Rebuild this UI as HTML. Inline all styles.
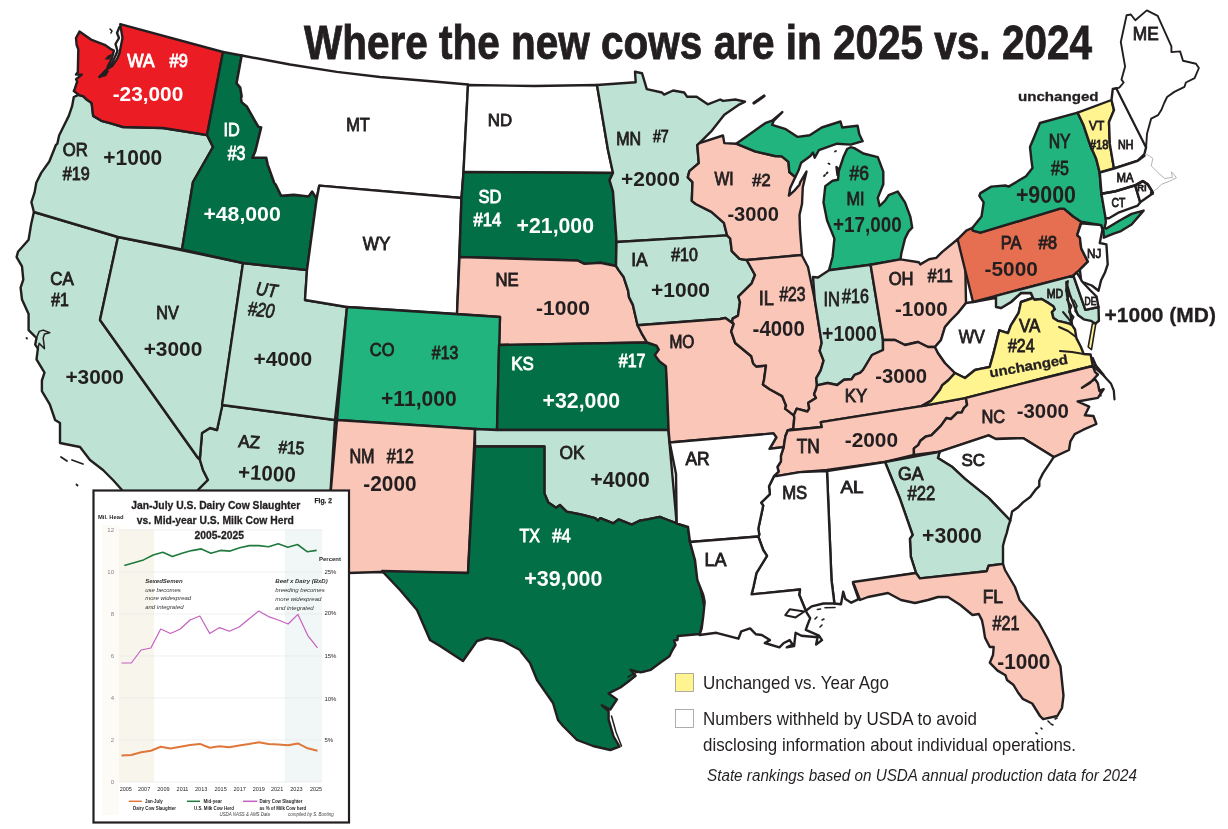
<!DOCTYPE html>
<html><head><meta charset="utf-8"><style>
html,body{margin:0;padding:0;background:#fff;overflow:hidden;width:1228px;height:829px;}
svg{display:block;font-family:"Liberation Sans",sans-serif;will-change:transform;}
</style></head><body>
<svg width="1228" height="829" viewBox="0 0 1228 829">
<rect width="1228" height="829" fill="#fff"/>
<g stroke="#231f20" stroke-width="2.4" stroke-linejoin="round">
<polygon points="33.9,212 118,237 100,320 198,458 200,460 203,470 208,480 198,490 198,500 125,500 122,490 113,480 103,470 90,460 80,447 60,443 60,423 55.1,420 49.8,404.4 41.9,391.1 41.9,380.5 44.5,372.6 36.5,359.3 37.9,348.7 35.2,344.7 36.5,338 28.6,330.1 28.6,314.1 22,299.5 20.6,287.6 23.3,279.6 22,266.4 16.6,257.1 18,251.8 28.6,239.8 31.2,223.9" fill="#bee3d4"/>
<polygon points="222,405 335,420 330,500 198,500 198,490 208,480 203,470 200,460 200,457 202,433 210,428 217,430" fill="#bee3d4"/>
<polygon points="118,237 243,263 222,407 217,430 210,428 202,433 200,457 198,458 100,320" fill="#bee3d4"/>
<polygon points="243,263 307,270 305,300 347,307 335,420 222,405" fill="#bee3d4"/>
<polygon points="73.8,97 78.6,94.8 83.5,96.4 86.7,99.6 91.6,102.9 93.2,115.9 101.4,120.8 110,123.2 123,127 163,128 207,135 213,147 193,182 182,249.5 118,237 33.9,212 31.4,202.2 34.6,192.4 36.3,182.7 41.2,172.9 49.3,161.5 55.8,145.2 57.4,143.6 59.1,135.5 62.3,128.9 68.8,115.9 72.1,106.2" fill="#bee3d4"/>
<polygon points="79.5,31.6 91,39.6 104.7,44.8 110.4,48.8 113.9,50.5 112,58 108,66 105.8,74.6 99.5,76.9 106,70 112.7,65.4 117.3,58.6 119.6,52.8 122.5,37.9 120.2,24.2 223,52 207,135 163,128 123,127 110,123.2 101.4,120.8 93.2,115.9 91.6,102.9 86.7,99.6 83.5,96.4 78.6,94.8 74.5,91.5 73.8,91.2 74.9,88.4 77.2,81.5 76,79.2 81.8,74.6 76,74.6 77.8,72.3 78.3,49.4 76.6,44.8 76,38" fill="#ec1c24"/>
<polygon points="223,52 241.7,55.5 236.6,83.3 240.3,87.6 241.7,96.3 241,98.5 241.7,102.1 246.8,106.4 258.3,126.7 261.2,127.4 255.4,151.3 252.5,157.8 266.3,157.8 267.7,164.3 274.3,183 275.6,184.3 281.2,195.7 293.9,194.8 308.5,196.4 312.1,191.5 316.7,198.7 307,270 243,263 182,249.5 193,182 213,147 207,135" fill="#036f46"/>
<polygon points="241.7,55.5 290,64.5 336.8,71.9 380,77 428,81 468,84.5 463.5,172 461.5,198 319.3,185.6 316.7,198.7 312.1,191.5 308.5,196.4 293.9,194.8 281.2,195.7 275.6,184.3 274.3,183 267.7,164.3 266.3,157.8 252.5,157.8 255.4,151.3 261.2,127.4 258.3,126.7 246.8,106.4 241.7,102.1 241,98.5 241.7,96.3 240.3,87.6 236.6,83.3" fill="#ffffff"/>
<polygon points="319.3,185.6 461.5,198 457,314 347,307 305,300 307,270 316.7,198.7" fill="#ffffff"/>
<polygon points="468,85 534,86 597,85 608,150 613,173 463.5,172" fill="#ffffff"/>
<polygon points="463.5,172 613,173 609.5,180.2 613,191.7 616.3,237.5 616,266 600.4,262.8 584.4,263.9 577.5,260.5 459.5,257 461.5,198" fill="#036f46"/>
<polygon points="459.5,257 577.5,260.5 584.4,263.9 600.4,262.8 616,266 618.8,270.4 623.5,276.7 628.2,290.8 629,297.1 632.9,304.9 637.6,325.3 642.4,334.7 647.1,342.5 499,345 500,317 457,314" fill="#f9c6b8"/>
<polygon points="347,307 500,317 497,430 475,429 337,420" fill="#22b47e"/>
<polygon points="499,345 647.1,342.5 656.5,345.7 658.8,349.6 654.9,355.1 659.6,361.4 665.9,366.1 666.7,380 668.6,430 497,430" fill="#036f46"/>
<polygon points="337,420 475,429 468,573 380,572 348,573 330,500" fill="#f9c6b8"/>
<polygon points="475,429 497,430 668.3,430 676.7,523.3 668,520 659.8,516.8 647.3,519.4 639.5,520.7 631.7,524.6 618.6,519.4 613.4,523.3 600.4,518.1 597.8,520.7 595.2,518.1 584.8,515.5 579.6,514.2 566.6,511.6 560,505.1 556.1,507.7 548.3,502.5 544.4,493.4 544.4,446.5 475,446.5" fill="#bee3d4"/>
<polygon points="475,446.5 544.4,446.5 544.4,493.4 548.3,502.5 556.1,507.7 560,505.1 566.6,511.6 579.6,514.2 584.8,515.5 595.2,518.1 597.8,520.7 600.4,518.1 613.4,523.3 618.6,519.4 631.7,524.6 639.5,520.7 647.3,519.4 659.8,516.8 668,520 676.7,523.3 688,527 690,542 695,560 697,573 700,586 703,600 705,610 703,620 700,634 677.8,636 677.5,640 674,640.5 675.5,645 672.7,649.5 669.4,656.3 660.9,662.2 650.8,669.8 640.7,672.3 630.5,669.8 635.6,675.7 627.1,682.5 620.4,687.5 608.6,693.4 617,699.4 610.3,709.5 601.8,705.3 608.6,711.2 608.6,719.6 613.6,736.5 619.5,746.6 610.3,750 593,746 577,740 563,726 558,720 553,703 537,680 530,663 522,653 520,650 503,641 487,638 477,641 463,661 440,646 430,640 417,610 400,590 382,571 468,573" fill="#036f46"/>
<polygon points="597,85 635.7,82.2 635,71.8 642,73.2 646.8,89.1 662,92.5 664.1,94.6 673.1,90.5 684.2,92.5 687,96.7 696.6,96.7 707.7,104.3 720.2,99.5 723,100.9 735.4,99.5 745.1,101.6 739.6,104.3 724.3,114.7 711.9,130.6 699.4,143.1 697.3,145.2 698.8,163.2 689.4,171.1 687.8,177.4 692.5,182.1 691.8,200.9 695.7,204 711.4,211.9 723.9,222.8 725.5,229.1 727.1,235.4 616.5,242 616.3,237.5 613,191.7 609.5,180.2 613,173 608,150" fill="#bee3d4"/>
<polygon points="616.5,242 727.1,235.4 730.2,238.5 731.8,251.1 739.6,258.9 746.7,260 755,275 751.7,283.3 738.3,296.7 740,302 738,315.6 732.7,318.6 732.2,321.5 733.7,324 725.4,318 720,319 637.6,325.3 632.9,304.9 629,297.1 628.2,290.8 623.5,276.7 618.8,270.4 616,266" fill="#bee3d4"/>
<polygon points="637.6,325.3 720,319 725.4,318 733.7,324 731.2,331.3 735.2,343 751.3,356.2 753.2,363.5 756.2,366.5 766,365.5 764,380 762.9,384.5 769.7,389.3 782.2,396.1 786.1,405.7 785.1,408.6 793.8,415.4 794.3,417.3 793.3,428.9 787.7,430.5 785.4,436.2 783.7,447.1 769.5,448.8 776.3,437.4 773.5,433.4 669.7,442.5 668.6,430 666.7,380 665.9,366.1 659.6,361.4 654.9,355.1 658.8,349.6 656.5,345.7 647.1,342.5 642.4,334.7" fill="#f9c6b8"/>
<polygon points="699.4,143.1 723,135.5 724.3,143.1 736.2,143.7 755,151.4 775,156 781.8,156.4 788.5,161.9 789.3,172 795.3,177.1 790.2,188 788.9,195.6 794.4,190.6 799.5,184.7 800.3,182.1 806.5,171.5 802.8,187.2 802,204.1 799.5,215 800,230 802,255 746.7,260 739.6,258.9 731.8,251.1 730.2,238.5 727.1,235.4 725.5,229.1 723.9,222.8 711.4,211.9 695.7,204 691.8,200.9 692.5,182.1 687.8,177.4 689.4,171.1 698.8,163.2 697.3,145.2" fill="#f9c6b8"/>
<polygon points="736.2,143.7 744.7,137.8 765.2,123.2 772.1,120.6 782.3,112.1 773.8,120.6 772.1,124.9 785.8,129.2 797.7,136.9 809.7,135.2 821.7,127.5 840.5,121.5 842.2,127.5 857.6,125.8 859.3,134.3 862.7,141.2 850.7,144.6 837.1,143.7 830.7,145.8 818.9,150.1 814.7,157.7 813,152.6 810.4,156 801.2,162.7 798.6,170.3 795.3,177.1 789.3,172 788.5,161.9 781.8,156.4 775,156 755,151.4" fill="#22b47e"/>
<polygon points="847.1,149 850.7,147.2 854.3,148.1 863.3,153.5 877.8,157.1 883.3,171.6 883.3,184.3 877.8,197.9 879.6,206 885.1,200.6 888.7,195.2 897.7,191.5 905,202.4 910.4,216.9 912.2,227.7 908.6,231.4 905,238.6 901.4,253.1 900.5,259.4 870.6,264.8 829,270.3 832.6,256.7 834.4,238.6 827.1,220.5 823.5,202.4 825.3,186.1 832.6,180.7 838,179.8 838.9,169.8 836.5,167 837.5,175 843.4,157.1" fill="#22b47e"/>
<polygon points="746.7,260 801.7,255 808,267 814.8,300 821.7,343 819.7,350.8 823.6,360.6 820.7,370.4 816.3,378.2 817,385.4 816,389.3 814.1,394.1 816,398 808.3,402.8 809.2,408.6 807.3,411.5 796.7,408.6 793.8,415.4 785.1,408.6 786.1,405.7 782.2,396.1 769.7,389.3 762.9,384.5 764,380 766,365.5 756.2,366.5 753.2,363.5 751.3,356.2 735.2,343 731.2,331.3 733.7,324 732.2,321.5 732.7,318.6 738,315.6 740,302 738.3,296.7 751.7,283.3 755,275" fill="#f9c6b8"/>
<polygon points="814.8,300 813,277 818,277.5 829,270.3 870.6,264.8 883,340 883,350 872,355 863,370 860,372.9 854.6,374.8 851.7,379.2 844,379.7 837.2,385 827.6,383 817,385.4 816.3,378.2 820.7,370.4 823.6,360.6 819.7,350.8 821.7,343" fill="#bee3d4"/>
<polygon points="870.6,264.8 900.5,259.4 918.8,262.2 920.3,264.4 929,259.3 936.2,257.9 942,252.1 957.6,239.3 965,250 966,303 958,313 951,320 945,327 941,340 935,347 928,347 918,342 905,345 895,340 883,340" fill="#f9c6b8"/>
<polygon points="817,385.4 827.6,383 837.2,385 844,379.7 851.7,379.2 854.6,374.8 860,372.9 863,370 872,355 883,350 883,340 895,340 905,345 918,342 928,347 935,347 938,353 945,363 955,373 948.6,380 942.1,385.4 940,389.8 935.6,395.2 931.3,400.6 921.5,406.1 860,415.9 820.8,422.1 821.8,427 787.7,430.5 793.3,428.9 794.3,417.3 793.8,415.4 796.7,408.6 807.3,411.5 809.2,408.6 808.3,402.8 816,398 814.1,394.1 816,389.3" fill="#f9c6b8"/>
<polygon points="787.7,430.5 821.8,427 820.8,422.1 860,415.9 921.5,406.1 966,397.9 967.1,405 963.8,408.2 961.7,412.6 957.3,412.6 950.8,419.1 946.5,418 941,425.6 931.3,435.4 925.8,436.5 920.4,440.8 918.2,445.1 913.9,448.4 913.9,454.9 885,462 827,470 800,472.1 776.3,476.1 774,476.1 778.6,471.6 777.4,467 780.9,461.3 780.9,455.6 783.7,447.1 785.4,436.2" fill="#f9c6b8"/>
<polygon points="966,303 973,302 995,298 1001,308 1011,302 1021,293 1031,293 1033,298 1021,302 1018.6,312.9 1010.9,325.4 1008,333.2 999.3,330.3 993.5,353.4 989.7,367 980,368.9 975,370 965,378 955,373 945,363 938,353 935,347 941,340 945,327 951,320 958,313" fill="#ffffff"/>
<polygon points="957.6,239.3 966.3,230.6 972.3,227.9 972.8,230.6 980.4,232.7 1060,208.6 1064,208.6 1073.3,216.5 1081.2,221.8 1077.2,235.1 1079.9,237.7 1081.2,248.4 1087.9,261.6 1079.9,269.6 1076.7,272.3 1073.4,275.6 1020,289.5 996,295.8 973,302" fill="#e66f51"/>
<polygon points="972.3,227.9 981.5,216.5 983.7,202.3 979.3,195.8 980.4,193.1 991.3,186.6 1005.4,185.5 1008.6,186.6 1026,176.3 1032.5,168.1 1031.4,160 1030,147 1040,123 1077.7,112.7 1083.6,125.3 1090.4,145.6 1096.3,159.1 1099.7,172.6 1101.4,193.7 1105.6,216.5 1105.8,222.5 1104.5,228 1106.4,228.5 1119.7,220.5 1131.6,213.9 1143.6,210.6 1131.6,224.5 1121,231.1 1113,233.8 1103.8,237.7 1103.5,231 1101.1,225.1 1081.2,221.8 1073.3,216.5 1064,208.6 1060,208.6 980.4,232.7 972.8,230.6" fill="#22b47e"/>
<polygon points="1077.7,112.7 1111.5,100 1114,110.1 1109,122 1109.8,143.9 1114,168.4 1099.7,172.6 1096.3,159.1 1090.4,145.6 1083.6,125.3" fill="#fff48f"/>
<polygon points="1112.8,89 1116.4,88.3 1146.1,147.3 1144.4,154 1137.7,160.8 1114,168.4 1109.8,143.9 1109,122 1114,110.1 1111.5,100" fill="#ffffff"/>
<polygon points="1116.4,88.3 1119.3,87.6 1123.7,82.5 1121.5,79.6 1125.1,66.6 1120.8,42 1126.6,15.2 1130.9,14.5 1135.3,20.3 1146.8,10.4 1157.7,15.9 1171.4,46.3 1171.4,52.1 1180.1,51.4 1183,60.8 1196,63.7 1198.9,68 1194.6,78.1 1185.9,82.5 1184.5,86.8 1174.3,91.9 1167.1,97 1164.2,103 1161.3,110.1 1158,115.2 1151.2,118.6 1147,133.8 1146.1,147.3" fill="#ffffff" stroke-width="1.9"/>
<polygon points="1099.7,172.6 1114,168.4 1137.7,160.8 1144.4,155.7 1146.1,154 1152.9,158.3 1151.2,165.9 1158,172.6 1155,185 1152,191.2 1147.8,184.4 1142.8,181.1 1135.2,185.3 1115.7,191.2 1101.4,193.7" fill="#ffffff" stroke="none"/>
<polygon points="1101.4,193.7 1115.7,191.2 1135.2,185.3 1140.2,202.2 1137.7,205.6 1119.1,212.3 1109,218.2 1105.6,218.2" fill="#ffffff"/>
<polygon points="1135.2,185.3 1142.8,181.1 1147.8,184.4 1152,191.2 1151.2,194.6 1140.2,202.2" fill="#ffffff"/>
<polygon points="1081.2,223.2 1101.1,225.1 1102.4,229.8 1099.8,243 1106.4,244.4 1107.7,264.3 1105.1,272.2 1101.1,280.2 1098.5,290.8 1091.8,285.5 1081.2,281.5 1079.9,269.6 1087.9,261.6 1081.2,248.4 1079.9,237.7 1077.2,235.1" fill="#ffffff"/>
<polygon points="996,295.8 1020,289.5 1073.4,275.6 1085.4,309.8 1098.5,307 1098.9,320.8 1095.3,323.7 1090.9,320.8 1083.7,319.3 1077.9,315 1075,307.8 1070,295 1066.3,282 1067,295 1069,305 1072.1,325.1 1069.2,323.7 1063.4,322.2 1057.6,320.8 1053.3,317.9 1051.8,312.1 1054.7,309.2 1053.3,306.3 1049,303.4 1041.7,299 1034.5,299.8 1033,298 1031,293 1021,293 1011,302 1001,308 996,307" fill="#bee3d4"/>
<polygon points="1073.4,275.6 1076.7,272.3 1079,276 1082,281.5 1090,290 1096.5,296.5 1098.5,307 1085.4,309.8" fill="#ffffff"/>
<polygon points="921.5,406.1 931.3,400.6 935.6,395.2 940,389.8 942.1,385.4 948.6,380 955,373 965,378 975,370 980,368.9 989.7,367 993.5,353.4 999.3,330.3 1008,333.2 1010.9,325.4 1018.6,312.9 1021,302 1033,298 1034.5,299.8 1041.7,299 1049,303.4 1053.3,306.3 1054.7,309.2 1051.8,312.1 1053.3,317.9 1057.6,320.8 1063.4,322.2 1069.2,323.7 1072.1,325.1 1075,329.5 1076.4,338.1 1080.8,346.8 1083.7,354 1090.6,354.5 1092.8,366 1040,379 966,397.9" fill="#fff48f"/>
<polygon points="966,397.9 1040,379 1092.8,366 1095,371.8 1097.9,374.7 1090,383 1082,387.8 1095,379 1097.9,383.4 1099.3,390.7 1103.7,389.2 1097.9,397.9 1077.6,401.5 1089.2,406.6 1084.9,415.3 1093.5,416 1096.4,424 1083.4,429.7 1074.7,434.1 1070.4,441.3 1069,450 1053.7,457.1 1023,438.1 995.8,439 988.6,435.4 939.7,451.7 913.9,454.9 913.9,448.4 918.2,445.1 920.4,440.8 925.8,436.5 931.3,435.4 941,425.6 946.5,418 950.8,419.1 957.3,412.6 961.7,412.6 963.8,408.2 967.1,405" fill="#f9c6b8"/>
<polygon points="939.7,451.7 988.6,435.4 995.8,439 1023,438.1 1053.7,457.1 1050.1,462.6 1042.9,473.4 1039.3,480.7 1039.3,486.1 1035.6,489.7 1030.2,497 1023,502.4 1017.5,507.8 1012.1,511.4 1010.3,520.5 988.6,497.9 965,478.9 952.4,467.1 937.9,458" fill="#ffffff"/>
<polygon points="885,462 939.7,451.7 937.9,458 952.4,467.1 965,478.9 988.6,497.9 1010.3,520.5 1008.5,525.9 1006.7,533.1 1004.9,538.6 1003,545.8 1003,563.9 988.6,565.7 986.8,571.2 919.8,578.4 916,573 910.8,556.7 909.9,538.6 912.6,535 900,498.8" fill="#bee3d4"/>
<polygon points="827,471 885,462 900,498.8 912.6,535 909.9,538.6 910.8,556.7 916,573 853,583 858.6,599.1 851.3,602.7 845.4,599.1 843.2,591.7 841,604.2 834.4,603.5 831.5,580" fill="#ffffff"/>
<polygon points="776.3,476.1 800,472.1 827,471 831.5,580 834.4,603.5 823.4,603.5 811.7,606.4 805.8,610.8 799.2,594.7 800,589.5 751.6,594.4 753.5,586.7 756.4,573.2 767,555.8 763.2,550 758.3,536.5 759.3,534.6 758.3,528.8 763.2,505.6 761.2,502.7 769.9,494.1 769,486.3 774,476.1" fill="#ffffff"/>
<polygon points="669.7,442.5 773.5,433.4 776.3,437.4 769.5,448.8 783.7,447.1 780.9,455.6 780.9,461.3 777.4,467 778.6,471.6 774,476.1 769,486.3 769.9,494.1 761.2,502.7 763.2,505.6 758.3,528.8 759.3,534.6 758.3,536.5 690,542 688,527 676.7,523.3 676,473.9" fill="#ffffff"/>
<polygon points="690,542 758.3,536.5 763.2,550 767,555.8 756.4,573.2 753.5,586.7 751.6,594.4 800,589.5 799.2,594.7 805.8,610.8 807.3,613.7 810.2,618.1 807.3,625.5 805.8,629.9 819,635.7 822,640.1 816.1,644.5 817.6,637.2 801.4,635.7 795.6,632.8 794.1,646 786.8,647.4 792.6,644.5 789.7,640.1 783.8,643 779.4,647.4 764.8,643 769.9,640.1 761.8,635 756,634.3 750.1,628.4 741.3,631.3 738.4,638.7 716.4,632.8 699.5,635 701.7,628.4 703.2,616.7 704.7,602 703.2,594.7 697.3,580 695,560" fill="#ffffff"/>
<polygon points="853,582 916,573 919.8,578.4 986.8,571.2 988.6,565.7 1003,563.9 1005,570 1015,587 1019.6,600 1028,610 1038.4,622 1047.8,639 1060.4,665.9 1063.5,695.7 1062,708 1057.3,716 1043.1,719.2 1040,716 1032.2,703.5 1022.7,698.8 1018,692.5 1013.3,684.7 1007,680 1005.5,675.3 997.6,670.6 991.4,664.3 989.8,662.7 993,655 993.7,647 989.8,647 985,637.6 983.5,628 982,620.4 978.8,614 972.5,615 960,604.7 948,597 938,597 928,600 915,603 901,600 888,593 868,597 860,600" fill="#f9c6b8"/>
</g>
<text x="304" y="59" font-size="49" font-weight="bold" fill="#231f20" stroke="#231f20" stroke-width="0.9" textLength="788" lengthAdjust="spacingAndGlyphs">Where the new cows are in 2025 vs. 2024</text>
<g>
<text x="127.2" y="67.3" font-size="18.0" font-weight="normal" fill="#ffffff" textLength="27.3" lengthAdjust="spacingAndGlyphs" stroke="#ffffff" stroke-width="0.85">WA</text>
<text x="169.5" y="67.3" font-size="18.0" font-weight="normal" fill="#ffffff" textLength="18.3" lengthAdjust="spacingAndGlyphs" stroke="#ffffff" stroke-width="0.85">#9</text>
<text x="112.7" y="101.1" font-size="20.4" font-weight="bold" fill="#ffffff" textLength="70.6" lengthAdjust="spacingAndGlyphs" >-23,000</text>
<text x="62.8" y="156.3" font-size="17.6" font-weight="normal" fill="#231f20" textLength="25.0" lengthAdjust="spacingAndGlyphs" stroke="#231f20" stroke-width="0.85">OR</text>
<text x="62.8" y="179.6" font-size="18.4" font-weight="normal" fill="#231f20" textLength="27.0" lengthAdjust="spacingAndGlyphs" stroke="#231f20" stroke-width="0.85">#19</text>
<text x="103.3" y="165.3" font-size="21.4" font-weight="bold" fill="#231f20" textLength="59.0" lengthAdjust="spacingAndGlyphs" >+1000</text>
<text x="223.5" y="136.3" font-size="18.4" font-weight="normal" fill="#ffffff" textLength="16.3" lengthAdjust="spacingAndGlyphs" stroke="#ffffff" stroke-width="0.85">ID</text>
<text x="227.7" y="160.3" font-size="19.4" font-weight="normal" fill="#ffffff" textLength="17.8" lengthAdjust="spacingAndGlyphs" stroke="#ffffff" stroke-width="0.85">#3</text>
<text x="203.4" y="220.6" font-size="20.9" font-weight="bold" fill="#ffffff" textLength="77.3" lengthAdjust="spacingAndGlyphs" >+48,000</text>
<text x="346.2" y="131.3" font-size="17.6" font-weight="normal" fill="#231f20" textLength="23.6" lengthAdjust="spacingAndGlyphs" stroke="#231f20" stroke-width="0.85">MT</text>
<text x="487.8" y="126.1" font-size="17.3" font-weight="normal" fill="#231f20" textLength="24.3" lengthAdjust="spacingAndGlyphs" stroke="#231f20" stroke-width="0.85">ND</text>
<text x="362.8" y="249.9" font-size="17.9" font-weight="normal" fill="#231f20" textLength="27.7" lengthAdjust="spacingAndGlyphs" stroke="#231f20" stroke-width="0.85">WY</text>
<text x="50.2" y="284.6" font-size="17.5" font-weight="normal" fill="#231f20" textLength="23.5" lengthAdjust="spacingAndGlyphs" stroke="#231f20" stroke-width="0.85">CA</text>
<text x="51.2" y="306.3" font-size="17.6" font-weight="normal" fill="#231f20" textLength="17.6" lengthAdjust="spacingAndGlyphs" stroke="#231f20" stroke-width="0.85">#1</text>
<text x="65.4" y="383.9" font-size="20.4" font-weight="bold" fill="#231f20" textLength="58.5" lengthAdjust="spacingAndGlyphs" >+3000</text>
<text x="156.2" y="318.9" font-size="17.5" font-weight="normal" fill="#231f20" textLength="22.5" lengthAdjust="spacingAndGlyphs" stroke="#231f20" stroke-width="0.85">NV</text>
<text x="143.7" y="356.3" font-size="20.4" font-weight="bold" fill="#231f20" textLength="58.6" lengthAdjust="spacingAndGlyphs" >+3000</text>
<text x="256.0" y="296.1" font-size="18.4" font-weight="normal" fill="#231f20" textLength="21.5" lengthAdjust="spacingAndGlyphs" stroke="#231f20" stroke-width="0.85" transform="rotate(8,266.8,289.5)" font-style="italic">UT</text>
<text x="247.9" y="316.6" font-size="19.8" font-weight="normal" fill="#231f20" textLength="26.7" lengthAdjust="spacingAndGlyphs" stroke="#231f20" stroke-width="0.85" transform="rotate(7,261.2,309.5)" font-style="italic">#20</text>
<text x="253.4" y="366.3" font-size="20.4" font-weight="bold" fill="#231f20" textLength="58.9" lengthAdjust="spacingAndGlyphs" >+4000</text>
<text x="238.3" y="447.8" font-size="17.6" font-weight="normal" fill="#231f20" textLength="21.7" lengthAdjust="spacingAndGlyphs" stroke="#231f20" stroke-width="0.85" transform="rotate(4,249.2,441.5)">AZ</text>
<text x="278.5" y="453.8" font-size="18.0" font-weight="normal" fill="#231f20" textLength="25.8" lengthAdjust="spacingAndGlyphs" stroke="#231f20" stroke-width="0.85" transform="rotate(3.5,291.4,447.4)">#15</text>
<text x="238.1" y="480.6" font-size="21.2" font-weight="bold" fill="#231f20" textLength="57.7" lengthAdjust="spacingAndGlyphs"  transform="rotate(3.3,267.0,473.2)">+1000</text>
<text x="349.4" y="462.9" font-size="19.8" font-weight="normal" fill="#231f20" textLength="25.2" lengthAdjust="spacingAndGlyphs" stroke="#231f20" stroke-width="0.85">NM</text>
<text x="386.7" y="462.9" font-size="19.8" font-weight="normal" fill="#231f20" textLength="27.2" lengthAdjust="spacingAndGlyphs" stroke="#231f20" stroke-width="0.85">#12</text>
<text x="363.3" y="491.3" font-size="21.4" font-weight="bold" fill="#231f20" textLength="53.3" lengthAdjust="spacingAndGlyphs" >-2000</text>
<text x="369.8" y="355.6" font-size="18.0" font-weight="normal" fill="#231f20" textLength="24.7" lengthAdjust="spacingAndGlyphs" stroke="#231f20" stroke-width="0.85">CO</text>
<text x="431.8" y="358.9" font-size="18.9" font-weight="normal" fill="#231f20" textLength="26.5" lengthAdjust="spacingAndGlyphs" stroke="#231f20" stroke-width="0.85">#13</text>
<text x="381.0" y="406.3" font-size="21.9" font-weight="bold" fill="#231f20" textLength="75.7" lengthAdjust="spacingAndGlyphs" >+11,000</text>
<text x="478.5" y="202.9" font-size="17.5" font-weight="normal" fill="#ffffff" textLength="22.9" lengthAdjust="spacingAndGlyphs" stroke="#ffffff" stroke-width="0.85">SD</text>
<text x="473.5" y="226.3" font-size="17.6" font-weight="normal" fill="#ffffff" textLength="27.7" lengthAdjust="spacingAndGlyphs" stroke="#ffffff" stroke-width="0.85">#14</text>
<text x="516.6" y="232.6" font-size="22.3" font-weight="bold" fill="#ffffff" textLength="77.4" lengthAdjust="spacingAndGlyphs" >+21,000</text>
<text x="495.5" y="285.6" font-size="17.5" font-weight="normal" fill="#231f20" textLength="23.2" lengthAdjust="spacingAndGlyphs" stroke="#231f20" stroke-width="0.85">NE</text>
<text x="536.1" y="314.6" font-size="20.4" font-weight="bold" fill="#231f20" textLength="53.8" lengthAdjust="spacingAndGlyphs" >-1000</text>
<text x="511.2" y="369.6" font-size="18.4" font-weight="normal" fill="#ffffff" textLength="22.6" lengthAdjust="spacingAndGlyphs" stroke="#ffffff" stroke-width="0.85">KS</text>
<text x="618.8" y="366.6" font-size="18.0" font-weight="normal" fill="#ffffff" textLength="26.7" lengthAdjust="spacingAndGlyphs" stroke="#ffffff" stroke-width="0.85">#17</text>
<text x="542.6" y="407.9" font-size="22.7" font-weight="bold" fill="#ffffff" textLength="77.5" lengthAdjust="spacingAndGlyphs" >+32,000</text>
<text x="559.5" y="458.9" font-size="18.9" font-weight="normal" fill="#231f20" textLength="25.1" lengthAdjust="spacingAndGlyphs" stroke="#231f20" stroke-width="0.85">OK</text>
<text x="590.3" y="486.9" font-size="21.3" font-weight="bold" fill="#231f20" textLength="59.6" lengthAdjust="spacingAndGlyphs" >+4000</text>
<text x="519.5" y="542.3" font-size="19.0" font-weight="normal" fill="#ffffff" textLength="20.4" lengthAdjust="spacingAndGlyphs" stroke="#ffffff" stroke-width="0.85">TX</text>
<text x="552.2" y="542.3" font-size="19.0" font-weight="normal" fill="#ffffff" textLength="18.4" lengthAdjust="spacingAndGlyphs" stroke="#ffffff" stroke-width="0.85">#4</text>
<text x="524.3" y="585.6" font-size="22.9" font-weight="bold" fill="#ffffff" textLength="78.2" lengthAdjust="spacingAndGlyphs" >+39,000</text>
<text x="616.2" y="144.6" font-size="17.5" font-weight="normal" fill="#231f20" textLength="24.9" lengthAdjust="spacingAndGlyphs" stroke="#231f20" stroke-width="0.85">MN</text>
<text x="652.9" y="142.3" font-size="16.6" font-weight="normal" fill="#231f20" textLength="15.9" lengthAdjust="spacingAndGlyphs" stroke="#231f20" stroke-width="0.85">#7</text>
<text x="621.1" y="186.3" font-size="20.4" font-weight="bold" fill="#231f20" textLength="58.8" lengthAdjust="spacingAndGlyphs" >+2000</text>
<text x="631.2" y="266.3" font-size="18.7" font-weight="normal" fill="#231f20" textLength="16.4" lengthAdjust="spacingAndGlyphs" stroke="#231f20" stroke-width="0.85">IA</text>
<text x="671.2" y="261.3" font-size="17.6" font-weight="normal" fill="#231f20" textLength="26.6" lengthAdjust="spacingAndGlyphs" stroke="#231f20" stroke-width="0.85">#10</text>
<text x="651.1" y="296.6" font-size="20.9" font-weight="bold" fill="#231f20" textLength="58.9" lengthAdjust="spacingAndGlyphs" >+1000</text>
<text x="669.5" y="347.9" font-size="17.5" font-weight="normal" fill="#231f20" textLength="24.9" lengthAdjust="spacingAndGlyphs" stroke="#231f20" stroke-width="0.85">MO</text>
<text x="714.5" y="184.6" font-size="17.5" font-weight="normal" fill="#231f20" textLength="19.2" lengthAdjust="spacingAndGlyphs" stroke="#231f20" stroke-width="0.85">WI</text>
<text x="752.3" y="185.6" font-size="16.6" font-weight="normal" fill="#231f20" textLength="18.2" lengthAdjust="spacingAndGlyphs" stroke="#231f20" stroke-width="0.85">#2</text>
<text x="727.4" y="221.3" font-size="20.4" font-weight="bold" fill="#231f20" textLength="51.5" lengthAdjust="spacingAndGlyphs" >-3000</text>
<text x="849.4" y="179.6" font-size="19.8" font-weight="normal" fill="#231f20" textLength="19.5" lengthAdjust="spacingAndGlyphs" stroke="#231f20" stroke-width="0.85">#6</text>
<text x="846.4" y="204.6" font-size="19.1" font-weight="normal" fill="#231f20" textLength="18.1" lengthAdjust="spacingAndGlyphs" stroke="#231f20" stroke-width="0.85">MI</text>
<text x="833.1" y="232.1" font-size="22.6" font-weight="bold" fill="#231f20" textLength="68.7" lengthAdjust="spacingAndGlyphs" >+17,000</text>
<text x="758.7" y="304.6" font-size="19.8" font-weight="normal" fill="#231f20" textLength="15.2" lengthAdjust="spacingAndGlyphs" stroke="#231f20" stroke-width="0.85">IL</text>
<text x="779.4" y="301.3" font-size="19.8" font-weight="normal" fill="#231f20" textLength="26.2" lengthAdjust="spacingAndGlyphs" stroke="#231f20" stroke-width="0.85">#23</text>
<text x="752.6" y="336.3" font-size="22.9" font-weight="bold" fill="#231f20" textLength="52.2" lengthAdjust="spacingAndGlyphs" >-4000</text>
<text x="823.4" y="306.3" font-size="19.8" font-weight="normal" fill="#231f20" textLength="16.5" lengthAdjust="spacingAndGlyphs" stroke="#231f20" stroke-width="0.85">IN</text>
<text x="842.1" y="302.9" font-size="19.8" font-weight="normal" fill="#231f20" textLength="26.8" lengthAdjust="spacingAndGlyphs" stroke="#231f20" stroke-width="0.85">#16</text>
<text x="822.0" y="341.3" font-size="22.9" font-weight="bold" fill="#231f20" textLength="54.8" lengthAdjust="spacingAndGlyphs" >+1000</text>
<text x="888.7" y="284.6" font-size="17.5" font-weight="normal" fill="#231f20" textLength="24.9" lengthAdjust="spacingAndGlyphs" stroke="#231f20" stroke-width="0.85">OH</text>
<text x="927.7" y="281.8" font-size="17.6" font-weight="normal" fill="#231f20" textLength="25.1" lengthAdjust="spacingAndGlyphs" stroke="#231f20" stroke-width="0.85">#11</text>
<text x="895.0" y="316.3" font-size="20.4" font-weight="bold" fill="#231f20" textLength="52.6" lengthAdjust="spacingAndGlyphs" >-1000</text>
<text x="844.8" y="401.8" font-size="18.3" font-weight="normal" fill="#231f20" textLength="22.5" lengthAdjust="spacingAndGlyphs" stroke="#231f20" stroke-width="0.85">KY</text>
<text x="875.2" y="383.3" font-size="20.3" font-weight="bold" fill="#231f20" textLength="51.9" lengthAdjust="spacingAndGlyphs" >-3000</text>
<text x="796.7" y="452.6" font-size="19.4" font-weight="normal" fill="#231f20" textLength="23.1" lengthAdjust="spacingAndGlyphs" stroke="#231f20" stroke-width="0.85">TN</text>
<text x="844.7" y="447.1" font-size="20.4" font-weight="bold" fill="#231f20" textLength="53.4" lengthAdjust="spacingAndGlyphs" >-2000</text>
<text x="685.5" y="464.6" font-size="17.5" font-weight="normal" fill="#231f20" textLength="24.2" lengthAdjust="spacingAndGlyphs" stroke="#231f20" stroke-width="0.85">AR</text>
<text x="704.5" y="566.3" font-size="17.6" font-weight="normal" fill="#231f20" textLength="22.0" lengthAdjust="spacingAndGlyphs" stroke="#231f20" stroke-width="0.85">LA</text>
<text x="782.2" y="498.9" font-size="18.9" font-weight="normal" fill="#231f20" textLength="25.1" lengthAdjust="spacingAndGlyphs" stroke="#231f20" stroke-width="0.85">MS</text>
<text x="840.5" y="492.6" font-size="17.0" font-weight="normal" fill="#231f20" textLength="23.1" lengthAdjust="spacingAndGlyphs" stroke="#231f20" stroke-width="0.85">AL</text>
<text x="898.0" y="479.6" font-size="17.5" font-weight="normal" fill="#231f20" textLength="25.6" lengthAdjust="spacingAndGlyphs" stroke="#231f20" stroke-width="0.85">GA</text>
<text x="907.6" y="499.6" font-size="19.8" font-weight="normal" fill="#231f20" textLength="27.8" lengthAdjust="spacingAndGlyphs" stroke="#231f20" stroke-width="0.85">#22</text>
<text x="922.1" y="542.6" font-size="22.3" font-weight="bold" fill="#231f20" textLength="59.6" lengthAdjust="spacingAndGlyphs" >+3000</text>
<text x="961.4" y="465.6" font-size="16.6" font-weight="normal" fill="#231f20" textLength="23.6" lengthAdjust="spacingAndGlyphs" stroke="#231f20" stroke-width="0.85">SC</text>
<text x="981.5" y="422.6" font-size="18.4" font-weight="normal" fill="#231f20" textLength="23.7" lengthAdjust="spacingAndGlyphs" stroke="#231f20" stroke-width="0.85">NC</text>
<text x="1016.7" y="417.9" font-size="20.4" font-weight="bold" fill="#231f20" textLength="52.2" lengthAdjust="spacingAndGlyphs" >-3000</text>
<text x="982.7" y="603.3" font-size="18.0" font-weight="normal" fill="#231f20" textLength="20.3" lengthAdjust="spacingAndGlyphs" stroke="#231f20" stroke-width="0.85">FL</text>
<text x="992.4" y="630.3" font-size="20.8" font-weight="normal" fill="#231f20" textLength="27.0" lengthAdjust="spacingAndGlyphs" stroke="#231f20" stroke-width="0.85">#21</text>
<text x="997.3" y="668.9" font-size="21.9" font-weight="bold" fill="#231f20" textLength="53.1" lengthAdjust="spacingAndGlyphs" >-1000</text>
<text x="1000.7" y="248.6" font-size="18.4" font-weight="normal" fill="#231f20" textLength="20.8" lengthAdjust="spacingAndGlyphs" stroke="#231f20" stroke-width="0.85">PA</text>
<text x="1038.5" y="248.6" font-size="18.4" font-weight="normal" fill="#231f20" textLength="18.7" lengthAdjust="spacingAndGlyphs" stroke="#231f20" stroke-width="0.85">#8</text>
<text x="984.6" y="276.3" font-size="19.7" font-weight="bold" fill="#231f20" textLength="53.3" lengthAdjust="spacingAndGlyphs" >-5000</text>
<text x="1048.7" y="147.9" font-size="19.8" font-weight="normal" fill="#231f20" textLength="21.9" lengthAdjust="spacingAndGlyphs" stroke="#231f20" stroke-width="0.85">NY</text>
<text x="1051.1" y="174.6" font-size="19.8" font-weight="normal" fill="#231f20" textLength="17.8" lengthAdjust="spacingAndGlyphs" stroke="#231f20" stroke-width="0.85">#5</text>
<text x="1015.9" y="202.6" font-size="24.7" font-weight="bold" fill="#231f20" textLength="60.0" lengthAdjust="spacingAndGlyphs" >+9000</text>
<text x="1089.0" y="130.1" font-size="13.5" font-weight="normal" fill="#231f20" textLength="15.3" lengthAdjust="spacingAndGlyphs" stroke="#231f20" stroke-width="0.85">VT</text>
<text x="1089.8" y="148.9" font-size="12.8" font-weight="normal" fill="#231f20" textLength="18.8" lengthAdjust="spacingAndGlyphs" stroke="#231f20" stroke-width="0.85">#18</text>
<text x="1118.1" y="148.9" font-size="11.9" font-weight="normal" fill="#231f20" textLength="15.4" lengthAdjust="spacingAndGlyphs" stroke="#231f20" stroke-width="0.85">NH</text>
<text x="1132.8" y="39.6" font-size="17.5" font-weight="normal" fill="#231f20" textLength="25.9" lengthAdjust="spacingAndGlyphs" stroke="#231f20" stroke-width="0.85">ME</text>
<text x="1116.5" y="182.3" font-size="12.8" font-weight="normal" fill="#231f20" textLength="17.1" lengthAdjust="spacingAndGlyphs" stroke="#231f20" stroke-width="0.85">MA</text>
<text x="1111.5" y="206.9" font-size="12.8" font-weight="normal" fill="#231f20" textLength="13.8" lengthAdjust="spacingAndGlyphs" stroke="#231f20" stroke-width="0.85">CT</text>
<text x="1137.3" y="191.3" font-size="8.2" font-weight="normal" fill="#231f20" textLength="9.4" lengthAdjust="spacingAndGlyphs" stroke="#231f20" stroke-width="0.85">RI</text>
<text x="1087.1" y="257.9" font-size="12.8" font-weight="normal" fill="#231f20" textLength="14.2" lengthAdjust="spacingAndGlyphs" stroke="#231f20" stroke-width="0.85">NJ</text>
<text x="1046.8" y="297.9" font-size="11.9" font-weight="normal" fill="#231f20" textLength="16.4" lengthAdjust="spacingAndGlyphs" stroke="#231f20" stroke-width="0.85">MD</text>
<text x="1084.6" y="304.6" font-size="10.5" font-weight="normal" fill="#231f20" textLength="11.8" lengthAdjust="spacingAndGlyphs" stroke="#231f20" stroke-width="0.85">DE</text>
<text x="958.7" y="342.9" font-size="17.5" font-weight="normal" fill="#231f20" textLength="26.2" lengthAdjust="spacingAndGlyphs" stroke="#231f20" stroke-width="0.85">WV</text>
<text x="1019.1" y="331.8" font-size="17.6" font-weight="normal" fill="#231f20" textLength="21.2" lengthAdjust="spacingAndGlyphs" stroke="#231f20" stroke-width="0.85">VA</text>
<text x="1008.0" y="352.4" font-size="17.9" font-weight="normal" fill="#231f20" textLength="26.5" lengthAdjust="spacingAndGlyphs" stroke="#231f20" stroke-width="0.85">#24</text>
<text x="1018.0" y="100.6" font-size="13.6" font-weight="bold" fill="#231f20" textLength="80.6" lengthAdjust="spacingAndGlyphs" stroke="#231f20" stroke-width="0.3">unchanged</text>
<text x="1104.6" y="322.4" font-size="20.6" font-weight="bold" fill="#231f20" textLength="111.4" lengthAdjust="spacingAndGlyphs" stroke="#231f20" stroke-width="0.3">+1000 (MD)</text>
</g>
<text transform="translate(990.3,377.6) rotate(-10.1)" x="0" y="0" font-size="13.6" font-weight="bold" fill="#231f20" stroke="#231f20" stroke-width="0.3" textLength="79.5" lengthAdjust="spacingAndGlyphs">unchanged</text>
<polyline points="1144.4,155.7 1137.7,160.8 1114,168.4 1099.7,172.6 1101.4,193.7 1115.7,191.2 1135.2,185.3 1142.8,181.1 1147.8,184.4 1152,191.2" fill="none" stroke="#231f20" stroke-width="2.6" stroke-linejoin="round" stroke-linecap="round"/>
<polyline points="1146.1,154 1152.9,158.3 1151.2,165.9 1158,172.6 1164.7,178.5 1172.3,177.4 1171.5,171.8 1176.5,177.7 1169.8,181.1 1161.3,184.4 1158,187.8 1153.7,191.2" fill="none" stroke="#aaaaaa" stroke-width="0.9" stroke-linejoin="round" stroke-linecap="round"/>
<circle cx="1152" cy="193" r="2.2" fill="#231f20"/>
<polyline points="1092.8,366 1103,375 1110.9,383.4 1113.8,390.7 1114.5,399.3" fill="none" stroke="#231f20" stroke-width="2.2" stroke-linejoin="round" stroke-linecap="round"/>
<polyline points="1099,388 1101,396" fill="none" stroke="#231f20" stroke-width="1.5" stroke-linejoin="round" stroke-linecap="round"/>
<polygon points="1091,357 1094,366 1101,373 1108.5,381 1104,373.5 1097,365 1093.5,357" fill="#231f20"/>
<polygon points="1092.4,323.7 1095.8,323.7 1091.5,349.7 1088.2,347" fill="#fff48f" stroke="#231f20" stroke-width="1.6" stroke-linejoin="round"/>
<polyline points="1059,327 1068,331 1076,337" fill="none" stroke="#231f20" stroke-width="2.0" stroke-linejoin="round" stroke-linecap="round"/>
<polyline points="1060,351 1072,352 1083.7,354" fill="none" stroke="#231f20" stroke-width="2.0" stroke-linejoin="round" stroke-linecap="round"/>
<polyline points="1063,312 1068,318 1072,323.7" fill="none" stroke="#231f20" stroke-width="2.0" stroke-linejoin="round" stroke-linecap="round"/>
<polyline points="1068,281 1066,291 1069.5,294.5 1067,300 1071.5,306 1069,312 1073.5,317 1071,322" fill="none" stroke="#231f20" stroke-width="2.0" stroke-linejoin="round" stroke-linecap="round"/>
<polyline points="1074,300 1077,306 1075,311 1079,316" fill="none" stroke="#231f20" stroke-width="1.6" stroke-linejoin="round" stroke-linecap="round"/>
<polygon points="785.3,615.2 789.7,609.3 804.4,611.5 795.6,617.4" fill="#fff" stroke="#231f20" stroke-width="2" stroke-linejoin="round"/>
<polyline points="817.5,609.5 820.5,609" fill="none" stroke="#231f20" stroke-width="1.6" stroke-linejoin="round" stroke-linecap="round"/>
<polyline points="825,607.8 835,607.5" fill="none" stroke="#231f20" stroke-width="1.6" stroke-linejoin="round" stroke-linecap="round"/>
<polyline points="815,619 817,617" fill="none" stroke="#231f20" stroke-width="1.6" stroke-linejoin="round" stroke-linecap="round"/>
<polyline points="822,620 824,619" fill="none" stroke="#231f20" stroke-width="1.6" stroke-linejoin="round" stroke-linecap="round"/>
<polyline points="820,627 822,625" fill="none" stroke="#231f20" stroke-width="1.6" stroke-linejoin="round" stroke-linecap="round"/>
<polyline points="119.5,27 117,33 119,38 115.5,44 117.5,51 114.5,58 112,63 108.5,67.5 104,73 99.5,77" fill="none" stroke="#231f20" stroke-width="2.4" stroke-linejoin="round" stroke-linecap="round"/>
<polyline points="110,29 112,31 111,33" fill="none" stroke="#231f20" stroke-width="1.6" stroke-linejoin="round" stroke-linecap="round"/>
<polygon points="104.5,59.5 108,55.5 112.5,53.5 109.5,59.5" fill="#231f20"/>
<polygon points="100,76.5 105,71.5 109.5,71 105,76.5" fill="#231f20"/>
<polyline points="611.5,716 616,732 621.5,746" fill="none" stroke="#231f20" stroke-width="1.5" stroke-linejoin="round" stroke-linecap="round"/>
<polyline points="628,677 636,672.5 644,672" fill="none" stroke="#231f20" stroke-width="1.6" stroke-linejoin="round" stroke-linecap="round"/>
<polyline points="1036,733 1037,733.5" fill="none" stroke="#231f20" stroke-width="1.8" stroke-linejoin="round" stroke-linecap="round"/>
<polyline points="1041,728 1042,729" fill="none" stroke="#231f20" stroke-width="1.6" stroke-linejoin="round" stroke-linecap="round"/>
<polyline points="754,103 764,96" fill="none" stroke="#231f20" stroke-width="3.2" stroke-linejoin="round" stroke-linecap="round"/>
<polyline points="835,151.5 836,151" fill="none" stroke="#231f20" stroke-width="1.8" stroke-linejoin="round" stroke-linecap="round"/>
<polyline points="828.5,163.5 829.5,164" fill="none" stroke="#231f20" stroke-width="1.8" stroke-linejoin="round" stroke-linecap="round"/>
<polyline points="826.5,173.5 827.5,172.5" fill="none" stroke="#231f20" stroke-width="1.8" stroke-linejoin="round" stroke-linecap="round"/>
<polyline points="824,176 825,175" fill="none" stroke="#231f20" stroke-width="1.8" stroke-linejoin="round" stroke-linecap="round"/>
<polyline points="61,457 67,461" fill="none" stroke="#231f20" stroke-width="1.8" stroke-linejoin="round" stroke-linecap="round"/>
<polyline points="72,460 83,464" fill="none" stroke="#231f20" stroke-width="1.8" stroke-linejoin="round" stroke-linecap="round"/>
<polyline points="76.5,484.5 77.5,485.5" fill="none" stroke="#231f20" stroke-width="1.8" stroke-linejoin="round" stroke-linecap="round"/>
<polyline points="26.5,338 27,338.5" fill="none" stroke="#231f20" stroke-width="1.8" stroke-linejoin="round" stroke-linecap="round"/>
<polyline points="36.5,338 39.2,331.4 43.2,330.1 49.8,332.7 44.5,334.1 43.2,338 44.5,348.7 39.2,343.4 37.9,348.7" fill="none" stroke="#231f20" stroke-width="1.5" stroke-linejoin="round" stroke-linecap="round"/>
<polyline points="1048,721 1050,723" fill="none" stroke="#231f20" stroke-width="1.6" stroke-linejoin="round" stroke-linecap="round"/>
<polyline points="1051,724 1053,725" fill="none" stroke="#231f20" stroke-width="1.6" stroke-linejoin="round" stroke-linecap="round"/>
<polyline points="1055,719 1057,718" fill="none" stroke="#231f20" stroke-width="1.6" stroke-linejoin="round" stroke-linecap="round"/>
<rect x="93.5" y="490.5" width="255.5" height="332" fill="#fff" stroke="#231f20" stroke-width="2.2"/>
<rect x="102" y="525" width="17" height="290" fill="#fdfbf6"/>
<rect x="119" y="529.5" width="35" height="252.5" fill="#f8f5ec"/>
<rect x="285" y="529.5" width="37" height="252.5" fill="#f1f6f7"/>
<line x1="119" y1="782" x2="322" y2="782" stroke="#e6e6e6" stroke-width="0.6"/>
<text x="114" y="784" font-size="6" fill="#8a8090" text-anchor="end">0</text>
<line x1="119" y1="740" x2="322" y2="740" stroke="#e6e6e6" stroke-width="0.6"/>
<text x="114" y="742" font-size="6" fill="#8a8090" text-anchor="end">2</text>
<line x1="119" y1="698" x2="322" y2="698" stroke="#e6e6e6" stroke-width="0.6"/>
<text x="114" y="700" font-size="6" fill="#8a8090" text-anchor="end">4</text>
<line x1="119" y1="656" x2="322" y2="656" stroke="#e6e6e6" stroke-width="0.6"/>
<text x="114" y="658" font-size="6" fill="#8a8090" text-anchor="end">6</text>
<line x1="119" y1="614" x2="322" y2="614" stroke="#e6e6e6" stroke-width="0.6"/>
<text x="114" y="616" font-size="6" fill="#8a8090" text-anchor="end">8</text>
<line x1="119" y1="572" x2="322" y2="572" stroke="#e6e6e6" stroke-width="0.6"/>
<text x="114" y="574" font-size="6" fill="#8a8090" text-anchor="end">10</text>
<line x1="119" y1="530" x2="322" y2="530" stroke="#e6e6e6" stroke-width="0.6"/>
<text x="114" y="532" font-size="6" fill="#8a8090" text-anchor="end">12</text>
<polyline points="124.3,565.4 133.9,562.7 143.5,559.9 153.2,555.0 162.8,552.2 172.4,556.6 182.0,553.3 191.6,550.6 201.3,548.9 210.9,553.3 220.5,550.4 230.1,551.1 239.7,547.8 249.4,545.6 259.0,545.6 268.6,546.7 278.2,543.8 287.8,547.3 297.5,544.5 307.1,551.7 316.7,550.4" fill="none" stroke="#1f7a3c" stroke-width="1.6" stroke-linejoin="round"/>
<polyline points="121.5,663 131.3,663 141.1,650 150.9,648 160.7,629 170.5,633.5 180.3,629 190.1,620 199.9,616 209.7,633.5 219.5,627.6 229.3,631.3 239.1,627 248.9,619 258.7,611 268.5,616.6 278.3,620 288.1,624 297.9,614.4 307.7,635.3 317.5,647.8" fill="none" stroke="#c55fc0" stroke-width="1.2" stroke-linejoin="round"/>
<polyline points="121.5,755.5 131.3,755 141.1,752.2 150.9,750.7 160.7,746.7 170.5,748.5 180.3,746.7 190.1,745 199.9,743.9 209.7,747.8 219.5,746.3 229.3,747.2 239.1,745.6 248.9,744.1 258.7,742.3 268.5,744.1 278.3,744.5 288.1,745.2 297.9,743.4 307.7,748.3 317.5,750.7" fill="none" stroke="#e0773a" stroke-width="2.0" stroke-linejoin="round"/>
<text x="131.3" y="509" font-size="11" font-weight="bold" fill="#231f20" stroke="#231f20" stroke-width="0.3" textLength="169" lengthAdjust="spacingAndGlyphs">Jan-July U.S. Dairy Cow Slaughter</text>
<text x="136.8" y="524" font-size="11" font-weight="bold" fill="#231f20" stroke="#231f20" stroke-width="0.3" textLength="157" lengthAdjust="spacingAndGlyphs">vs. Mid-year U.S. Milk Cow Herd</text>
<text x="194.6" y="539" font-size="11" font-weight="bold" fill="#231f20" stroke="#231f20" stroke-width="0.3" textLength="49.4" lengthAdjust="spacingAndGlyphs">2005-2025</text>
<text x="314.5" y="502.5" font-size="6.5" font-weight="bold" fill="#231f20" stroke="#231f20" stroke-width="0.25" textLength="17.5" lengthAdjust="spacingAndGlyphs">Fig. 2</text>
<text x="98" y="519" font-size="5.5" font-weight="bold" fill="#231f20" textLength="25.6" lengthAdjust="spacingAndGlyphs">Mil. Head</text>
<text x="319" y="561" font-size="6" font-weight="bold" fill="#231f20" textLength="22" lengthAdjust="spacingAndGlyphs">Percent</text>
<text x="324.4" y="573.7" font-size="6" fill="#231f20">25%</text>
<text x="324.4" y="615.3" font-size="6" fill="#231f20">20%</text>
<text x="324.4" y="658" font-size="6" fill="#231f20">15%</text>
<text x="324.4" y="700.8" font-size="6" fill="#231f20">10%</text>
<text x="324.4" y="741.5" font-size="6" fill="#231f20">5%</text>
<text x="125.8" y="791" font-size="5.5" fill="#231f20" text-anchor="middle">2005</text>
<text x="144.1" y="791" font-size="5.5" fill="#231f20" text-anchor="middle">2007</text>
<text x="163.4" y="791" font-size="5.5" fill="#231f20" text-anchor="middle">2009</text>
<text x="182.5" y="791" font-size="5.5" fill="#231f20" text-anchor="middle">2011</text>
<text x="201.2" y="791" font-size="5.5" fill="#231f20" text-anchor="middle">2013</text>
<text x="220.6" y="791" font-size="5.5" fill="#231f20" text-anchor="middle">2015</text>
<text x="239.7" y="791" font-size="5.5" fill="#231f20" text-anchor="middle">2017</text>
<text x="258.8" y="791" font-size="5.5" fill="#231f20" text-anchor="middle">2019</text>
<text x="277.1" y="791" font-size="5.5" fill="#231f20" text-anchor="middle">2021</text>
<text x="296.4" y="791" font-size="5.5" fill="#231f20" text-anchor="middle">2023</text>
<text x="316" y="791" font-size="5.5" fill="#231f20" text-anchor="middle">2025</text>
<text x="145.2" y="582.7" font-size="6" font-style="italic" font-weight="bold" fill="#333">SexedSemen</text>
<text x="145.2" y="591.5" font-size="6" font-style="italic" font-weight="normal" fill="#333">use becomes</text>
<text x="145.2" y="600.3" font-size="6" font-style="italic" font-weight="normal" fill="#333">more widespread</text>
<text x="145.2" y="608.7" font-size="6" font-style="italic" font-weight="normal" fill="#333">and integrated</text>
<text x="275.3" y="583.2" font-size="6" font-style="italic" font-weight="bold" fill="#333">Beef x Dairy (BxD)</text>
<text x="275.3" y="592.4" font-size="6" font-style="italic" font-weight="normal" fill="#333">breeding becomes</text>
<text x="275.3" y="600.8" font-size="6" font-style="italic" font-weight="normal" fill="#333">more widespread</text>
<text x="275.3" y="609.6" font-size="6" font-style="italic" font-weight="normal" fill="#333">and integrated</text>
<line x1="128.7" y1="801.3" x2="141.9" y2="801.3" stroke="#e0773a" stroke-width="1.5"/>
<line x1="187" y1="801.3" x2="200" y2="801.3" stroke="#1f7a3c" stroke-width="1.5"/>
<line x1="243" y1="801.3" x2="257.3" y2="801.3" stroke="#c55fc0" stroke-width="1.5"/>
<text x="145" y="803" font-size="4.8" font-weight="bold" fill="#231f20" textLength="17.8" lengthAdjust="spacingAndGlyphs">Jan-July</text>
<text x="133" y="809.5" font-size="4.8" font-weight="bold" fill="#231f20" textLength="43" lengthAdjust="spacingAndGlyphs">Dairy Cow Slaughter</text>
<text x="203.4" y="803" font-size="4.8" font-weight="bold" fill="#231f20" textLength="18.6" lengthAdjust="spacingAndGlyphs">Mid-year</text>
<text x="194" y="809.5" font-size="4.8" font-weight="bold" fill="#231f20" textLength="40" lengthAdjust="spacingAndGlyphs">U.S. Milk Cow Herd</text>
<text x="259.5" y="803" font-size="4.8" font-weight="bold" fill="#231f20" textLength="43" lengthAdjust="spacingAndGlyphs">Dairy Cow Slaughter</text>
<text x="259.5" y="809.5" font-size="4.8" font-weight="bold" fill="#231f20" textLength="46.8" lengthAdjust="spacingAndGlyphs">as % of Milk Cow herd</text>
<text x="219.5" y="816" font-size="4.6" font-style="italic" fill="#444" textLength="50.5" lengthAdjust="spacingAndGlyphs">USDA NASS &amp; AMS Data</text>
<text x="288" y="816" font-size="4.6" font-style="italic" fill="#444" textLength="45.8" lengthAdjust="spacingAndGlyphs">compiled by S. Bunting</text>
<rect x="675.5" y="673.5" width="18" height="18" fill="#fff48f" stroke="#999" stroke-width="0.8"/>
<rect x="675.5" y="709.5" width="18" height="18" fill="#fff" stroke="#999" stroke-width="0.8"/>
<text x="703" y="689" font-size="19" fill="#231f20" textLength="186" lengthAdjust="spacingAndGlyphs">Unchanged vs. Year Ago</text>
<text x="703" y="725" font-size="19" fill="#231f20" textLength="274" lengthAdjust="spacingAndGlyphs">Numbers withheld by USDA to avoid</text>
<text x="703" y="751" font-size="19" fill="#231f20" textLength="373" lengthAdjust="spacingAndGlyphs">disclosing information about individual operations.</text>
<text x="707" y="781" font-size="16" font-style="italic" fill="#231f20" textLength="430" lengthAdjust="spacingAndGlyphs">State rankings based on USDA annual production data for 2024</text>
</svg>
</body></html>
